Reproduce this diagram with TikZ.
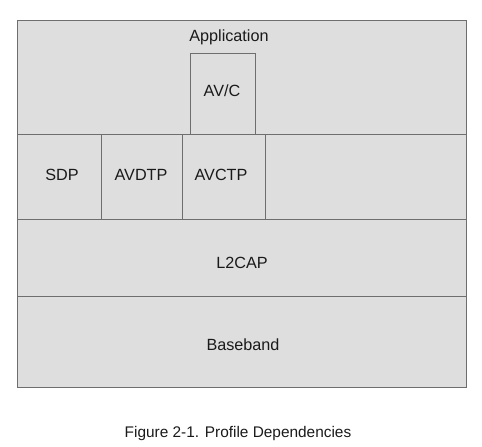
\documentclass[tikz,border=0pt]{standalone}
\usepackage{fontspec}
\setmainfont{Liberation Sans}
\definecolor{boxfill}{HTML}{DEDEDE}
\definecolor{boxline}{HTML}{6E6E6E}
\definecolor{txt}{HTML}{1A1A1A}
\begin{document}
\begin{tikzpicture}[x=1pt,y=-1pt,
  layer/.style={draw=boxline, fill=boxfill, line width=1pt, inner sep=0pt, outer sep=0pt, rectangle},
  lbl/.style={text=txt, font=\fontsize{16.2}{19}\selectfont, inner sep=0pt},
  captxt/.style={text=txt, font=\fontsize{15.4}{18}\selectfont, inner sep=0pt}]
\useasboundingbox (0,0) rectangle (482,447);
% layers
\node[layer, minimum width=449pt, minimum height=114pt] (app) at (241.5,77) {};
\node[layer, minimum width=65pt, minimum height=81pt] (avc) at (222.5,93.5) {};
\node[layer, minimum width=84pt, minimum height=85pt] (sdp) at (59,176.5) {};
\node[layer, minimum width=81pt, minimum height=85pt] (avdtp) at (141.5,176.5) {};
\node[layer, minimum width=83pt, minimum height=85pt] (avctp) at (223.5,176.5) {};
\node[layer, minimum width=201pt, minimum height=85pt] (rest) at (365.5,176.5) {};
\node[layer, minimum width=449pt, minimum height=77pt] (l2cap) at (241.5,257.5) {};
\node[layer, minimum width=449pt, minimum height=91pt] (bb) at (241.5,341.5) {};
% labels
\node[lbl] (tapp) at (229,37) {Application};
\node[lbl] (tavc) at (222,91) {AV/C};
\node[lbl] (tsdp) at (62,175) {SDP};
\node[lbl] (tavdtp) at (141,175) {AVDTP};
\node[lbl] (tavctp) at (221,175) {AVCTP};
\node[lbl] (tl2cap) at (242,263) {L2CAP};
\node[lbl] (tbb) at (243,345) {Baseband};
\node[captxt] (caption) at (238,434) {Figure 2-1. Profile Dependencies};
\end{tikzpicture}
\end{document}
